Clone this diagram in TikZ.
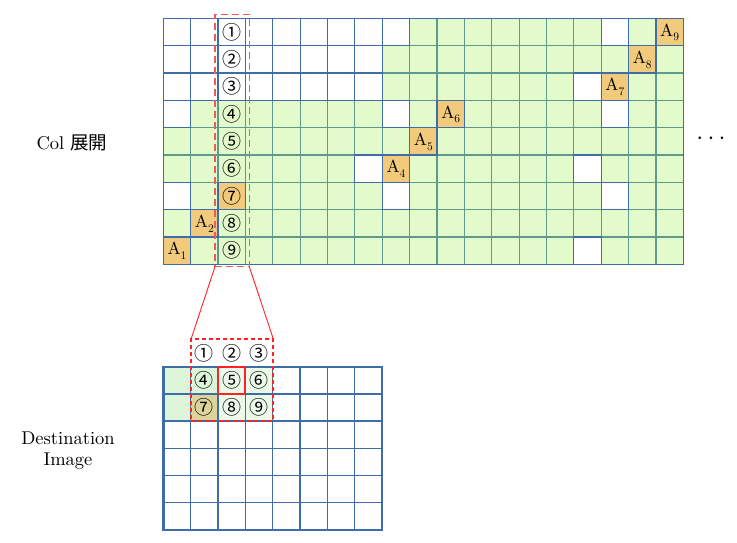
\documentclass[tikz,border=0pt]{standalone}
\usepackage{fontspec}
\setmainfont{lmroman10-regular}[Extension=.otf]
\newfontfamily\cjk{Noto Sans CJK JP}
\definecolor{cW}{HTML}{FFFFFF}
\definecolor{cG}{HTML}{E3FBCB}
\definecolor{cO}{HTML}{F1CA7C}
\definecolor{gline}{HTML}{5E9A8E}
\definecolor{bline}{HTML}{3F6DA8}
\definecolor{mint}{HTML}{DDF5D8}
\definecolor{pale}{HTML}{ECFAEA}
\definecolor{tan}{HTML}{DCD49A}
\definecolor{redA}{HTML}{F05A5A}
\definecolor{redB}{HTML}{FF2222}
\tikzset{
  circnum/.style={font=\cjk\fontsize{19}{19}\selectfont, inner sep=0pt},
  alabel/.style={anchor=base, inner sep=0pt, font=\fontsize{17.5}{17.5}\selectfont},
  txtlabel/.style={anchor=base, inner sep=0pt, font=\fontsize{18.5}{22}\selectfont},
  colbox/.style={draw=redA, line width=1.4pt, dash pattern=on 7pt off 4pt, inner sep=0pt, outer sep=0pt},
  winbox/.style={draw=redB, line width=2pt, dash pattern=on 4pt off 3pt, inner sep=0pt, outer sep=0pt},
  link/.style={draw=redB, line width=0.9pt}
}
\newcommand{\Alab}[1]{A\raisebox{-4.5pt}{\fontsize{11.5}{11.5}\selectfont #1}}
\begin{document}
\begin{tikzpicture}[x=1pt,y=-1pt]
\useasboundingbox (0,0) rectangle (737,542);
\def\cw{27.37}\def\ch{27.33}
\def\gx{163.3}\def\gy{18.3}
\def\celldata{0/{W,W,W,W,W,W,W,W,W,G,G,G,G,G,G,G,W,G,O},
1/{W,W,W,W,W,W,W,W,G,G,G,G,G,G,G,G,G,O,G},
2/{W,W,W,W,W,W,W,W,G,G,G,G,G,G,G,W,O,G,G},
3/{W,G,G,G,G,G,G,G,W,G,O,G,G,G,G,G,W,G,G},
4/{G,G,G,G,G,G,G,G,G,O,G,G,G,G,G,G,G,G,G},
5/{G,G,G,G,G,G,G,W,O,G,G,G,G,G,G,W,G,G,G},
6/{W,G,O,G,G,G,G,G,W,G,G,G,G,G,G,G,W,G,G},
7/{G,O,G,G,G,G,G,G,G,G,G,G,G,G,G,G,G,G,G},
8/{O,G,G,G,G,G,G,G,G,G,G,G,G,G,G,W,G,G,G}}
% fills
\foreach \r/\cells in \celldata {
  \foreach \t [count=\c from 0] in \cells {
    \fill[c\t] (\gx+\c*\cw, \gy+\r*\ch) rectangle ++(\cw,\ch);
  }
}
% teal grid
\foreach \i in {0,...,19} \draw[gline, line width=1.2pt] (\gx+\i*\cw, \gy) -- ++(0, 9*\ch);
\foreach \j in {0,...,9} \draw[gline, line width=1.2pt] (\gx, \gy+\j*\ch) -- ++(19*\cw, 0);
% blue borders of white / orange cells
\foreach \r/\cells in \celldata {
  \foreach \t [count=\c from 0] in \cells {
    \if\t G\else
      \draw[bline, line width=1.2pt] (\gx+\c*\cw, \gy+\r*\ch) rectangle ++(\cw,\ch);
    \fi
  }
}
\draw[bline, line width=1.2pt] (\gx,\gy) rectangle ++(19*\cw, 9*\ch);
% circled numbers in column 2
\foreach \n/\s [count=\k from 0] in {1/①,2/②,3/③,4/④,5/⑤,6/⑥,7/⑦,8/⑧,9/⑨}
  \node[circnum] (t\n) at (\gx+2.5*\cw, \gy+\k*\ch+0.5*\ch) {\s};
% A labels
\foreach \lab/\r/\c in {1/8/0,2/7/1,4/5/8,5/4/9,6/3/10,7/2/16,8/1/17,9/0/18}
  \node[alabel] (a\lab) at (\gx+\c*\cw+0.5*\cw, \gy+\r*\ch+17.9) {\Alab{\lab}};
% bottom grid
\def\bx{163.3}\def\by{366.7}\def\bw{27.35}\def\bh{27.22}
\fill[mint] (\bx,\by) rectangle ++(\bw,2*\bh);
\fill[mint] (\bx+\bw,\by) rectangle ++(\bw,\bh);
\fill[pale] (\bx+2*\bw,\by) rectangle ++(2*\bw,2*\bh);
\fill[tan] (\bx+\bw,\by+\bh) rectangle ++(\bw,\bh);
\foreach \i in {1,...,7} \draw[bline, line width=1.3pt] (\bx+\i*\bw, \by) -- ++(0, 6*\bh);
\foreach \j in {1,...,5} \draw[bline, line width=1.3pt] (\bx, \by+\j*\bh) -- ++(8*\bw, 0);
\draw[bline, line width=2.4pt] (\bx,\by) rectangle ++(8*\bw, 6*\bh);
\draw[redB, line width=1.8pt] (\bx+2*\bw,\by) rectangle ++(\bw,\bh);
% window numbers
\foreach \n/\s/\r/\c in {1/①/-1/1,2/②/-1/2,3/③/-1/3,4/④/0/1,5/⑤/0/2,6/⑥/0/3,7/⑦/1/1,8/⑧/1/2,9/⑨/1/3}
  \node[circnum] (w\n) at (\bx+\c*\bw+0.5*\bw, \by+\r*\bh+0.5*\bh) {\s};
% dashed boxes and links
\node[colbox, minimum width=34.3pt, minimum height=252.4pt] (col) at (232.15,140.5) {};
\node[winbox, minimum width=82.5pt, minimum height=81.5pt] (win) at (232.2,380.2) {};
\draw[link] (col.south west) -- (win.north west);
\draw[link] (col.south east) -- (win.north east);
% labels
\node[txtlabel] (collab) at (72,149) {Col {\cjk 展開}};
\node[txtlabel] (dest1) at (68,444) {Destination};
\node[txtlabel] (dest2) at (68,465.7) {Image};
\node[inner sep=0pt, font=\fontsize{28}{28}\selectfont] (dots) at (711,139) {$\cdots$};
\end{tikzpicture}
\end{document}
